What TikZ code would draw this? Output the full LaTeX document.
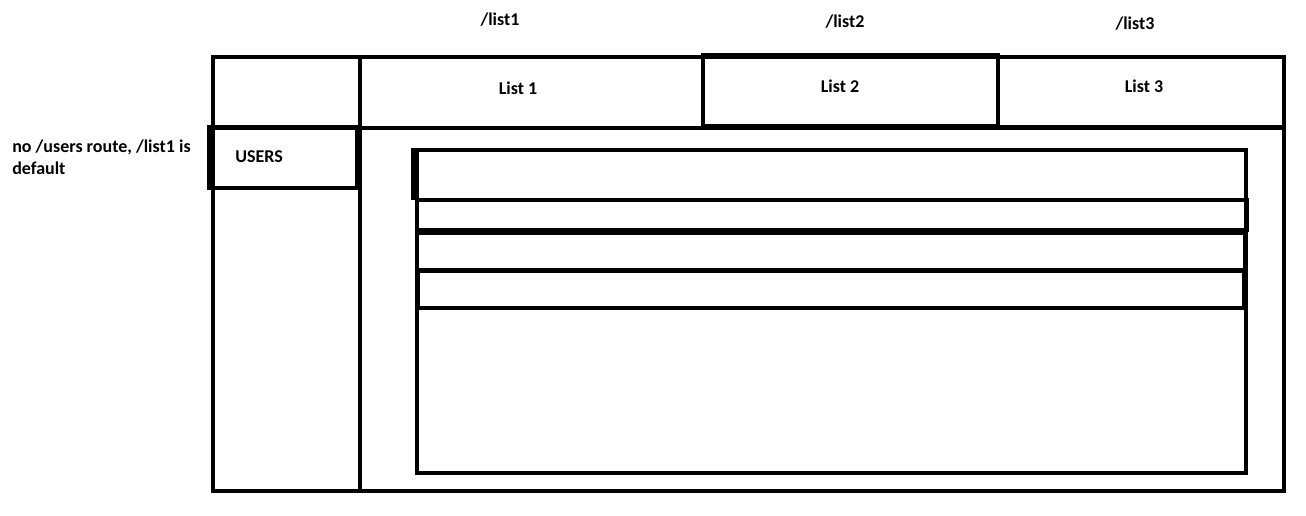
\documentclass[tikz,border=0pt]{standalone}
\usepackage{fontspec}
\setmainfont{Carlito}
\begin{document}
\begin{tikzpicture}[x=0.75pt,y=-0.75pt,
  box/.style={draw=black,line width=3.6pt},
  lbl/.style={font=\fontsize{13.5}{16}\selectfont\bfseries,text=black,inner sep=0pt}]
\useasboundingbox (0,0) rectangle (1306,515);
\fill[white] (0,0) rectangle (1306,515);
% outer frame
\draw[box] (213,57) rectangle (1284,491);
% left column
\draw[box] (360,57) -- (360,491);
\draw[box] (213,128) -- (1284,128);
% header tabs
\draw[box] (360,57) rectangle (703,128);
\draw[draw=black,line width=3pt] (703,55) rectangle (998,126);
\draw[box] (998,57) rectangle (1284,127);
% users box
\draw[box] (211,127) rectangle (357,188);
\draw[line width=6pt] (211,125) -- (211,190);
% list area
\draw[box] (417,150) rectangle (1246,473);
\draw[line width=6pt] (415,148) -- (415,200);
\draw[box] (417,200) rectangle (1247,230);
\draw[box] (417,233) rectangle (1245,270);
\draw[box] (418,271) rectangle (1244,308);
% texts
\node[lbl] (t1) at (500,20) {/list1};
\node[lbl] (t2) at (845,22) {/list2};
\node[lbl] (t3) at (1135,24) {/list3};
\node[lbl] (l1) at (518,88) {List 1};
\node[lbl] (l2) at (840,86) {List 2};
\node[lbl] (l3) at (1144,86) {List 3};
\node[lbl] (u) at (259,157) {USERS};
\node[lbl,anchor=north west,align=left,font=\fontsize{13.5}{16.5}\selectfont\bfseries] (note) at (12,140) {no /users route, /list1 is\\default};
\end{tikzpicture}
\end{document}
